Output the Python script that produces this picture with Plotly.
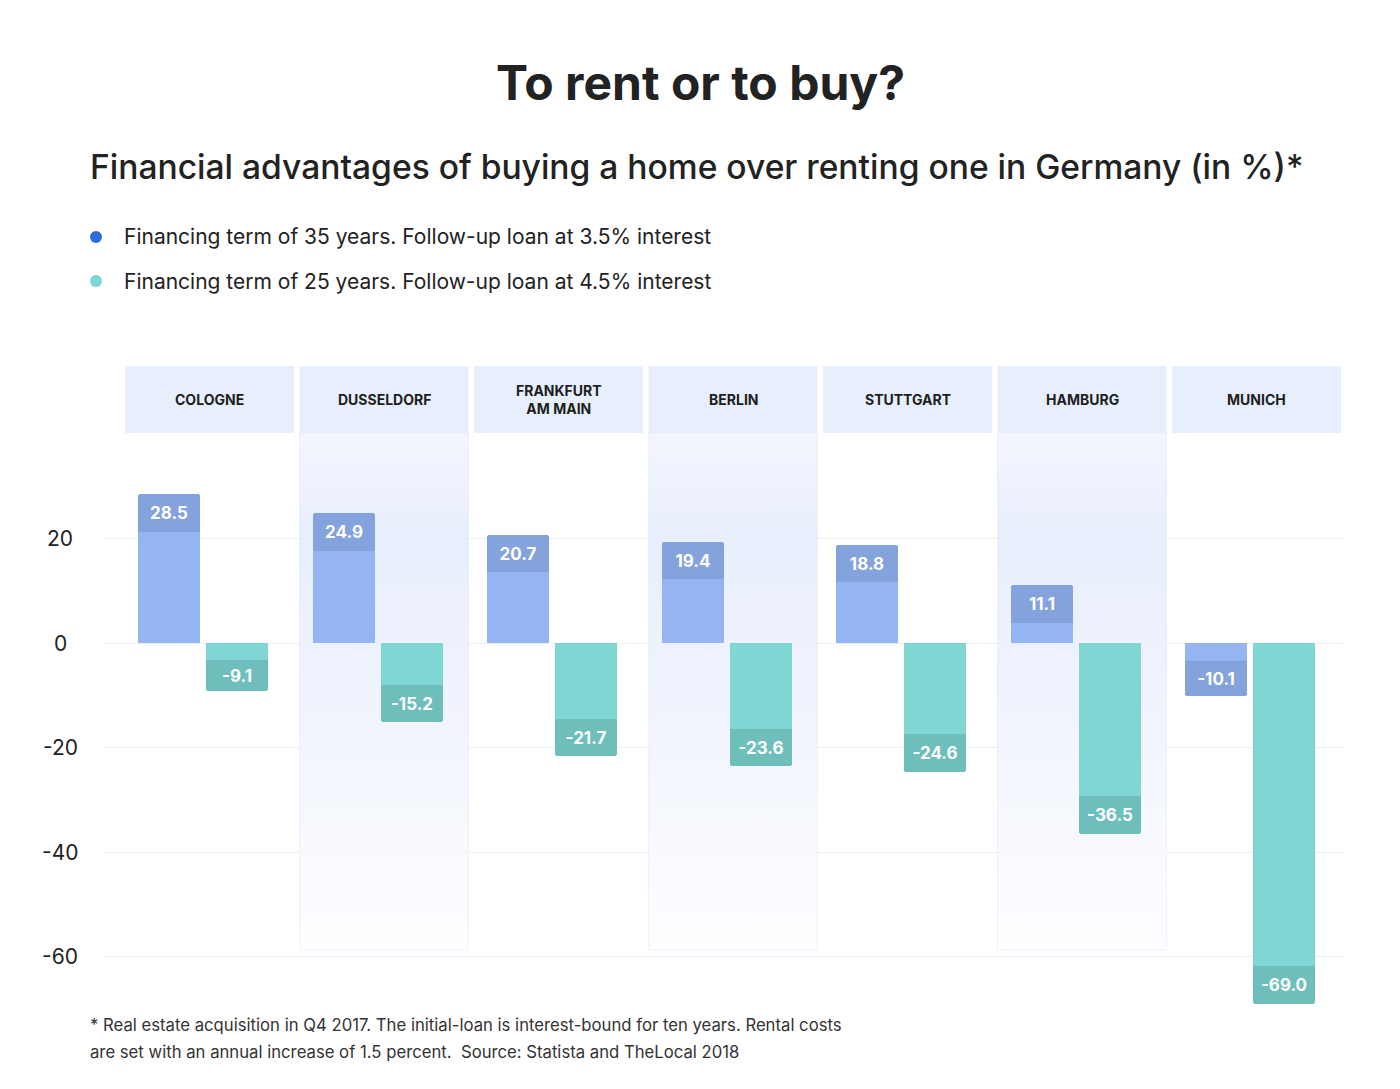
import plotly.graph_objects as go

# ---- data ----
cities = ["COLOGNE", "DUSSELDORF", "FRANKFURT<br>AM MAIN", "BERLIN", "STUTTGART", "HAMBURG", "MUNICH"]
term35 = [28.5, 24.9, 20.7, 19.4, 18.8, 11.1, -10.1]
term25 = [-9.1, -15.2, -21.7, -23.6, -24.6, -36.5, -69.0]
legend_labels = ["Financing term of 35 years. Follow-up loan at 3.5% interest",
                 "Financing term of 25 years. Follow-up loan at 4.5% interest"]
y_ticks = [20, 0, -20, -40, -60]

FONT = "Inter"
W, H = 1400, 1089
BAND = 7.2          # height of the darker label band (in axis units)
BLUE_L, BLUE_D = "#95b5f2", "#84a2dc"
TEAL_L, TEAL_D = "#7fd6d3", "#6ebfbb"
BW = 0.355
OFF_B, OFF_T = -0.232, 0.158
PXU = 5.225  # px per unit
Y0PX = 643

def py(px):  # pixel -> paper y
    return 1 - px / H

def px_x(px):
    return px / W

n = len(cities)
xs = list(range(n))

def split(vals):
    light, dark = [], []
    for v in vals:
        b = min(BAND, abs(v) * 0.65)
        if v >= 0:
            light.append(v - b); dark.append(b)
        else:
            light.append(v + b); dark.append(-b)
    return light, dark

bl, bd = split(term35)
tl, td = split(term25)

fig = go.Figure()

Y_TOP_HDR = (Y0PX - 433) / PXU
Y_HDR_TOP = (Y0PX - 366) / PXU
Y_MIN = -(1010 - Y0PX) / PXU
Y_COL_BOT = -(950 - Y0PX) / PXU
X_RANGE = [-0.599, 6.507]

# alternating gradient column backgrounds (base axes, drawn beneath bars)
for i in [1, 3, 5]:
    x0, x1 = i - 0.484, i + 0.484
    fig.add_trace(go.Scatter(
        x=[x0, x1, x1, x0, x0], y=[Y_TOP_HDR, Y_TOP_HDR, Y_COL_BOT, Y_COL_BOT, Y_TOP_HDR],
        mode="lines", line=dict(width=1, color="rgba(230,234,248,0.5)"),
        fill="toself",
        fillgradient=dict(type="vertical",
                          colorscale=[[0, "rgba(252,253,255,0.7)"], [0.45, "rgba(238,242,253,0.85)"],
                                      [0.8, "rgba(230,236,252,0.9)"], [1, "rgba(242,245,254,0.9)"]]),
        hoverinfo="skip", showlegend=False, xaxis="x", yaxis="y"))

common = dict(width=BW, showlegend=False, hoverinfo="skip", xaxis="x2", yaxis="y2")
lbl_font = dict(family=FONT, size=17, color="white", weight=700)
fig.add_trace(go.Bar(x=[x + OFF_B for x in xs], y=bl, marker=dict(color=BLUE_L, line=dict(width=0)), **common))
fig.add_trace(go.Bar(x=[x + OFF_B for x in xs], y=bd, marker=dict(color=BLUE_D, line=dict(width=0), cornerradius=3),
                     text=[f"{v:.1f}" for v in term35], textposition="inside", insidetextanchor="middle",
                     textangle=0, constraintext="none", textfont=lbl_font, **common))
fig.add_trace(go.Bar(x=[x + OFF_T for x in xs], y=tl, marker=dict(color=TEAL_L, line=dict(width=0)), **common))
fig.add_trace(go.Bar(x=[x + OFF_T for x in xs], y=td, marker=dict(color=TEAL_D, line=dict(width=0), cornerradius=3),
                     text=[f"{v:.1f}" for v in term25], textposition="inside", insidetextanchor="middle",
                     textangle=0, constraintext="none", textfont=lbl_font, **common))

shapes = []
annotations = []
# header boxes
for i, c in enumerate(cities):
    shapes.append(dict(type="rect", xref="x", yref="y", x0=i - 0.484, x1=i + 0.484,
                       y0=Y_TOP_HDR, y1=Y_HDR_TOP, fillcolor="#e8effc", line=dict(width=0), layer="below"))
    annotations.append(dict(xref="x", yref="y", x=i, y=(Y_TOP_HDR + Y_HDR_TOP) / 2, text=c,
                            showarrow=False, align="center",
                            font=dict(family=FONT, size=14, color="#1e1e1e", weight=700)))

# y tick labels (centered, as in the reference)
for v in y_ticks:
    annotations.append(dict(xref="paper", yref="y", x=px_x(60), y=v, text=str(v), showarrow=False,
                            xanchor="center", yanchor="middle",
                            font=dict(family=FONT, size=21, color="#222222")))

# title & subtitle
annotations.append(dict(xref="paper", yref="paper", x=0.5, y=py(83), text="To rent or to buy?",
                        showarrow=False, xanchor="center", yanchor="middle",
                        font=dict(family=FONT, size=48, color="#222222", weight=700)))
annotations.append(dict(xref="paper", yref="paper", x=px_x(88), y=py(167),
                        text="Financial advantages of buying a home over renting one in Germany (in %)*",
                        showarrow=False, xanchor="left", yanchor="middle",
                        font=dict(family=FONT, size=33.6, color="#222222", weight=500)))
# legend
for lab, col, ypx in zip(legend_labels, ["#2a6be0", "#7fd6d3"], [237, 281]):
    shapes.append(dict(type="circle", xref="paper", yref="paper",
                       x0=px_x(90), x1=px_x(102), y0=py(ypx + 6), y1=py(ypx - 6),
                       fillcolor=col, line=dict(width=0)))
    annotations.append(dict(xref="paper", yref="paper", x=px_x(122), y=py(ypx), text=lab,
                            showarrow=False, xanchor="left", yanchor="middle",
                            font=dict(family=FONT, size=21, color="#222222")))
# footnote
for txt, ypx in [("* Real estate acquisition in Q4 2017. The initial-loan is interest-bound for ten years. Rental costs", 1025),
                 ("are set with an annual increase of 1.5 percent.  Source: Statista and TheLocal 2018", 1052)]:
    annotations.append(dict(xref="paper", yref="paper", x=px_x(88), y=py(ypx), text=txt,
                            showarrow=False, xanchor="left", yanchor="middle",
                            font=dict(family=FONT, size=16.7, color="#333333")))

xdom = [px_x(105), px_x(1345)]
ydom = [py(1010), py(366)]
fig.update_layout(
    width=W, height=H, margin=dict(l=0, r=0, t=0, b=0),
    paper_bgcolor="white", plot_bgcolor="white",
    barmode="relative", bargap=0,
    font=dict(family=FONT, color="#222222"),
    xaxis=dict(domain=xdom, range=X_RANGE,
               showgrid=False, zeroline=False, showticklabels=False, ticks=""),
    yaxis=dict(domain=ydom, range=[Y_MIN, Y_HDR_TOP],
               tickvals=y_ticks, showticklabels=False,
               showgrid=True, gridcolor="#efefef", gridwidth=1, zeroline=False,
               ticks="", showline=False),
    xaxis2=dict(domain=xdom, range=X_RANGE, overlaying="x", anchor="y2",
                showgrid=False, zeroline=False, showticklabels=False, ticks=""),
    yaxis2=dict(domain=ydom, range=[Y_MIN, Y_HDR_TOP], overlaying="y", anchor="x2",
                showgrid=False, zeroline=False, showticklabels=False, ticks=""),
    shapes=shapes, annotations=annotations,
)

fig.write_html("out.html")
